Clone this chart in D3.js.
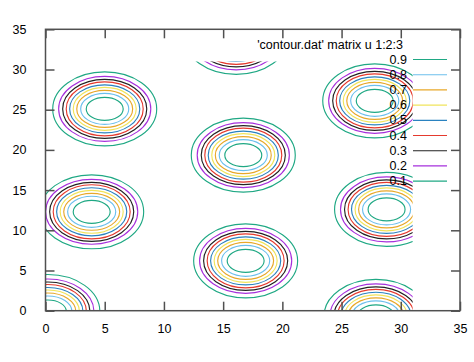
<!DOCTYPE html>
<html>
<head>
<meta charset="utf-8">
<script src="https://cdn.jsdelivr.net/npm/d3@7"></script>
<style>
  body { margin: 0; background: #fff; }
  text { font-family: "Liberation Sans", Arial, sans-serif; font-size: 12.5px; fill: #000; }
</style>
</head>
<body>
<svg id="chart" width="474" height="362"></svg>
<script>
var seriesTitle = "'contour.dat' matrix u 1:2:3";
var levels = [0.9, 0.8, 0.7, 0.6, 0.5, 0.4, 0.3, 0.2, 0.1];
var levelColors = ["#1fa884", "#6cbfec", "#e8a82a", "#f0e45c", "#2a82c0", "#e53a2e", "#222222", "#a630dc", "#1fa884"];
// contour half widths / half heights for each level, in data units
var radiusX = [1.56, 2.03, 2.36, 2.66, 2.96, 3.25, 3.55, 3.89, 4.39];
var radiusY = [1.43, 1.93, 2.30, 2.67, 2.99, 3.36, 3.67, 4.04, 4.60];
// peak centres
var peakX = [5.0, 16.1, 27.8, 3.9, 16.7, 28.8, 16.9, 0.2, 27.9];
var peakY = [25.1, 34.0, 26.1, 12.3, 19.35, 12.6, 6.2, -0.1, -0.7];
var dataMax = 31;
var xTicks = [0, 5, 10, 15, 20, 25, 30, 35];
var yTicks = [0, 5, 10, 15, 20, 25, 30, 35];

var plotLeft = 45.5, plotRight = 460, plotTop = 29.3, plotBottom = 310.7;
var tickLen = 9;

var svg = d3.select("#chart");

var x = d3.scaleLinear().domain([0, 35]).range([plotLeft, plotRight]);
var y = d3.scaleLinear().domain([0, 35]).range([plotBottom, plotTop]);

svg.append("clipPath").attr("id", "dataClip")
  .append("rect")
  .attr("x", x(0))
  .attr("y", y(dataMax))
  .attr("width", x(dataMax) - x(0))
  .attr("height", y(0) - y(dataMax));

var rings = [];
for (var p = 0; p < peakX.length; p++) {
    for (var i = 0; i < levels.length; i++) {
        rings.push({ cx: peakX[p], cy: peakY[p], rx: radiusX[i], ry: radiusY[i], color: levelColors[i] });
    }
}

svg.append("g")
  .attr("clip-path", "url(#dataClip)")
  .selectAll("ellipse").data(rings)
  .enter().append("ellipse")
  .attr("cx", function(d) { return x(d.cx); })
  .attr("cy", function(d) { return y(d.cy); })
  .attr("rx", function(d) { return x(d.cx + d.rx) - x(d.cx); })
  .attr("ry", function(d) { return y(d.cy) - y(d.cy + d.ry); })
  .attr("fill", "none")
  .attr("stroke", function(d) { return d.color; })
  .attr("stroke-width", 1.15);

// axes with mirrored inward ticks
function strip(g) {
    g.select(".domain").remove();
    g.selectAll(".tick line").attr("stroke", "#505050").attr("stroke-width", 1.5);
}

svg.append("g")
  .attr("transform", "translate(0," + plotBottom + ")")
  .call(d3.axisBottom(x).tickValues(xTicks).tickSize(-tickLen).tickPadding(13).tickFormat(d3.format("d")))
  .call(strip);

svg.append("g")
  .attr("transform", "translate(0," + plotTop + ")")
  .call(d3.axisTop(x).tickValues(xTicks).tickSize(-tickLen).tickFormat(""))
  .call(strip);

svg.append("g")
  .attr("transform", "translate(" + plotLeft + ",0)")
  .call(d3.axisLeft(y).tickValues(yTicks).tickSize(-tickLen).tickPadding(19).tickFormat(d3.format("d")))
  .call(strip);

svg.append("g")
  .attr("transform", "translate(" + plotRight + ",0)")
  .call(d3.axisRight(y).tickValues(yTicks).tickSize(-tickLen).tickFormat(""))
  .call(strip);

svg.selectAll(".tick text").attr("fill", "#000").style("font-size", "12.5px");

svg.append("rect")
  .attr("x", plotLeft).attr("y", plotTop)
  .attr("width", plotRight - plotLeft).attr("height", plotBottom - plotTop)
  .attr("fill", "none")
  .attr("stroke", "#505050")
  .attr("stroke-width", 1.5);

// key
svg.append("text")
  .attr("x", 403).attr("y", 45)
  .attr("text-anchor", "end")
  .attr("dominant-baseline", "central")
  .text(seriesTitle);

var key = svg.append("g").selectAll("g").data(levels)
  .enter().append("g")
  .attr("transform", function(d, i) { return "translate(0," + (59.5 + i * 15.2) + ")"; });

key.append("text")
  .attr("x", 407)
  .attr("text-anchor", "end")
  .attr("dominant-baseline", "central")
  .text(function(d) { return d; });

key.append("line")
  .attr("x1", 413).attr("x2", 447)
  .attr("stroke", function(d, i) { return levelColors[i]; })
  .attr("stroke-width", 1.15);
</script>
</body>
</html>
